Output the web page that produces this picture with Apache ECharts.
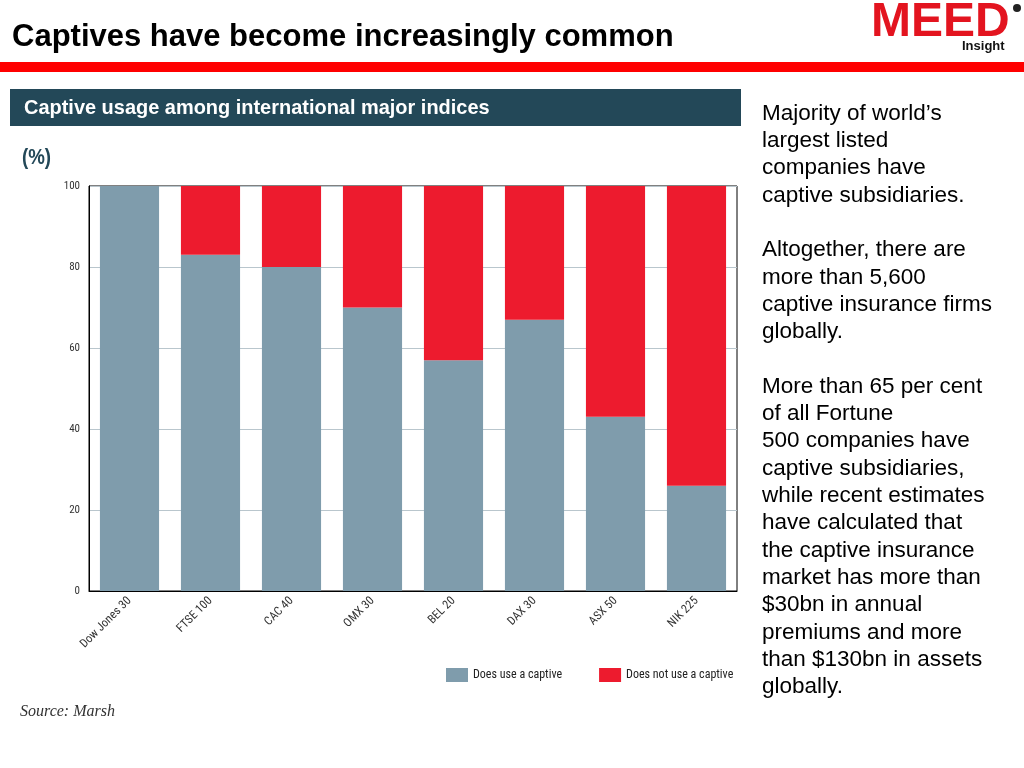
<!DOCTYPE html>
<html>
<head>
<meta charset="utf-8">
<script src="https://cdn.jsdelivr.net/npm/echarts@6/dist/echarts.min.js"></script>
<style>
  html, body { margin: 0; padding: 0; background: #fff; }
  #chart { width: 1024px; height: 768px; }
</style>
</head>
<body>
<div id="chart"></div>
<script>
var indices = ['Dow Jones 30', 'FTSE 100', 'CAC 40', 'OMX 30', 'BEL 20', 'DAX 30', 'ASX 50', 'NIK 225'];
var usesCaptive = [100, 83, 80, 70, 57, 67, 43, 26];
var noCaptive = [0, 17, 20, 30, 43, 33, 57, 74];
var sideNotes = [
  'Majority of world\u2019s', 'largest listed', 'companies have', 'captive subsidiaries.', '',
  'Altogether, there are', 'more than 5,600', 'captive insurance firms', 'globally.', '',
  'More than 65 per cent', 'of all Fortune', '500 companies have', 'captive subsidiaries,',
  'while recent estimates', 'have calculated that', 'the captive insurance',
  'market has more than', '$30bn in annual', 'premiums and more',
  'than $130bn in assets', 'globally.'
];

var sans = '"Liberation Sans", Arial, sans-serif';
var narrow = '"Roboto Condensed", "DejaVu Sans Condensed", sans-serif';
var grey = '#7f9cac';
var red = '#ed1b2e';

var chart = echarts.init(document.getElementById('chart'));

var option = {
  backgroundColor: '#fff',
  animation: false,
  graphic: [
    // slide header
    { type: 'text', x: 12, y: 37, style: { text: 'Captives have become increasingly common', font: 'bold 31px ' + sans, fill: '#000', verticalAlign: 'middle' } },
    { type: 'rect', shape: { x: 0, y: 62, width: 1024, height: 10 }, style: { fill: '#ff0000' } },
    { type: 'text', x: 871, y: 23, style: { text: 'MEED', font: 'bold 48px ' + sans, fill: '#e3141f', verticalAlign: 'middle' } },
    { type: 'text', x: 962, y: 46, style: { text: 'Insight', font: 'bold 13px ' + sans, fill: '#111', verticalAlign: 'middle' } },
    { type: 'circle', shape: { cx: 1017, cy: 8, r: 4 }, style: { fill: '#222' } },
    // chart header band
    { type: 'rect', shape: { x: 10, y: 89, width: 731, height: 37 }, style: { fill: '#234858' } },
    { type: 'text', x: 24, y: 108, scaleX: 0.95, style: { text: 'Captive usage among international major indices', font: 'bold 21px ' + sans, fill: '#fff', verticalAlign: 'middle' } },
    { type: 'text', x: 22, y: 158, scaleX: 0.85, style: { text: '(%)', font: 'bold 22px ' + sans, fill: '#234858', verticalAlign: 'middle' } },
    { type: 'text', x: 20, y: 712, style: { text: 'Source: Marsh', font: 'italic 16px "Liberation Serif", serif', fill: '#333', verticalAlign: 'middle' } },
    // side notes
    { type: 'text', left: 762, top: 100, style: { text: sideNotes.join('\n'), font: '22.5px ' + sans, lineHeight: 27.3, fill: '#000' } }
  ],
  legend: {
    left: 441,
    top: 663,
    itemWidth: 22,
    itemHeight: 14,
    itemGap: 37,
    icon: 'rect',
    textStyle: { fontFamily: narrow, fontSize: 12, color: '#222' },
    data: ['Does use a captive', 'Does not use a captive']
  },
  grid: {
    left: 89,
    right: 287,
    top: 186,
    bottom: 177,
    show: true,
    borderColor: '#000',
    borderWidth: 1
  },
  xAxis: {
    type: 'category',
    data: indices,
    axisLine: { show: true, lineStyle: { color: '#000' } },
    axisTick: { show: false },
    axisLabel: { rotate: 45, fontFamily: narrow, fontSize: 12, color: '#333', margin: 8 }
  },
  yAxis: {
    type: 'value',
    min: 0,
    max: 100,
    interval: 20,
    axisLine: { show: true, lineStyle: { color: '#000' } },
    axisTick: { show: false },
    axisLabel: { fontFamily: narrow, fontSize: 11, color: '#333', margin: 9 },
    splitLine: { lineStyle: { color: '#b9c6cd', width: 1 } }
  },
  series: [
    {
      name: 'Does use a captive',
      type: 'bar',
      stack: 'share',
      barCategoryGap: '27%',
      itemStyle: { color: grey },
      data: usesCaptive
    },
    {
      name: 'Does not use a captive',
      type: 'bar',
      stack: 'share',
      itemStyle: { color: red },
      data: noCaptive
    }
  ]
};

chart.setOption(option);
</script>
</body>
</html>
